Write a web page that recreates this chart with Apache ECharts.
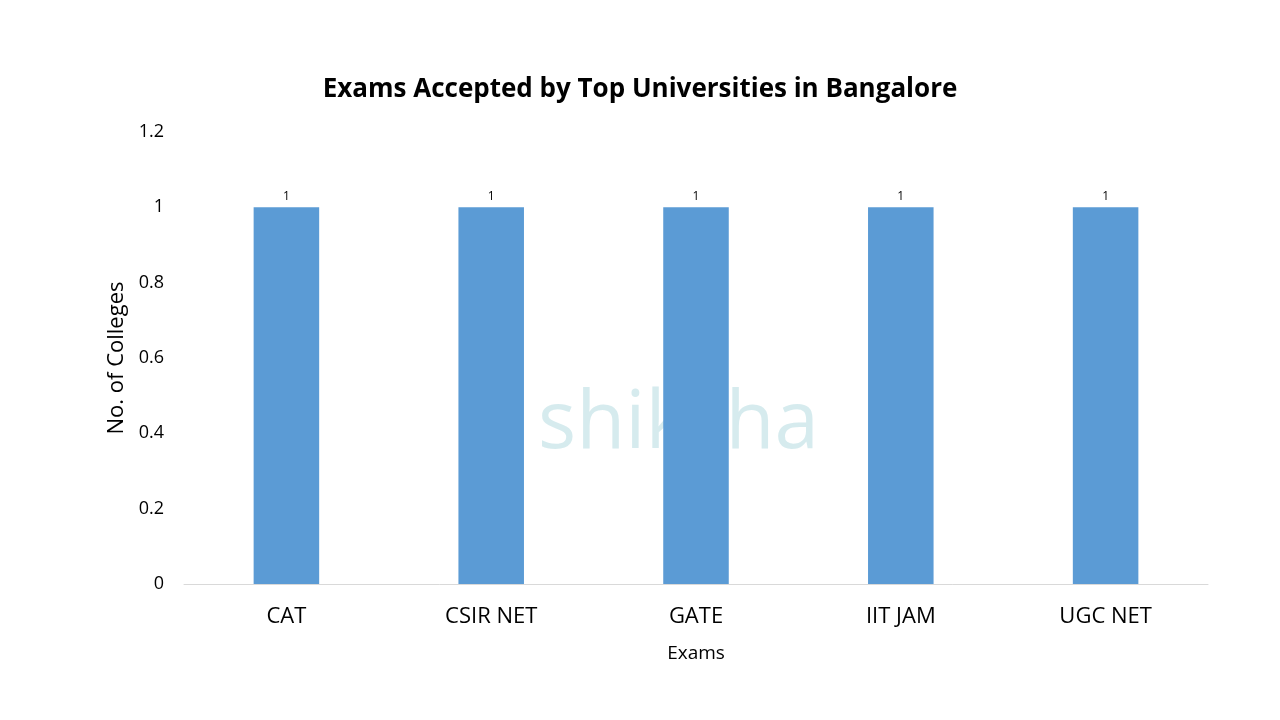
<!DOCTYPE html>
<html>
<head>
<meta charset="utf-8">
<script src="https://cdn.jsdelivr.net/npm/echarts@6/dist/echarts.min.js"></script>
<style>html,body{margin:0;padding:0;background:#fff}#main{width:1280px;height:720px}</style>
</head>
<body>
<div id="main"></div>
<script>
var categories = ['CAT', 'CSIR NET', 'GATE', 'IIT JAM', 'UGC NET'];
var collegeCounts = [1, 1, 1, 1, 1];

var myChart = echarts.init(document.getElementById('main'));
var font = 'Open Sans';
myChart.setOption({
    animation: false,
    textStyle: { fontFamily: font },
    title: {
        text: 'Exams Accepted by Top Universities in Bangalore',
        left: 'center', top: 72,
        textStyle: { fontSize: 26, fontWeight: 'bold', color: '#000', fontFamily: font }
    },
    graphic: [{
        type: 'text', left: 538, top: 385,
        style: { text: 'shiksha', fontSize: 80, fill: 'rgba(120,190,200,0.3)', fontFamily: font }
    }],
    grid: { left: 184, right: 72, top: 132, bottom: 136 },
    xAxis: {
        type: 'category', data: categories,
        name: 'Exams', nameLocation: 'middle', nameGap: 60,
        nameTextStyle: { fontSize: 19, color: '#000' },
        axisLine: { lineStyle: { color: '#d9d9d9' } },
        axisTick: { show: false },
        axisLabel: { fontSize: 22, color: '#000', margin: 22 }
    },
    yAxis: {
        type: 'value', min: 0, max: 1.2, interval: 0.2,
        name: 'No. of Colleges', nameLocation: 'middle', nameGap: 56,
        nameTextStyle: { fontSize: 22, color: '#000' },
        splitLine: { show: false },
        axisLine: { show: false },
        axisLabel: { fontSize: 18, color: '#000', margin: 20,
            formatter: function (v) { return Math.round(v * 10) / 10 + ''; } }
    },
    series: [{
        type: 'bar', data: collegeCounts, barWidth: '32%',
        itemStyle: { color: '#5b9bd5' },
        label: { show: true, position: 'top', fontSize: 12, color: '#000' }
    }]
});
</script>
</body>
</html>
